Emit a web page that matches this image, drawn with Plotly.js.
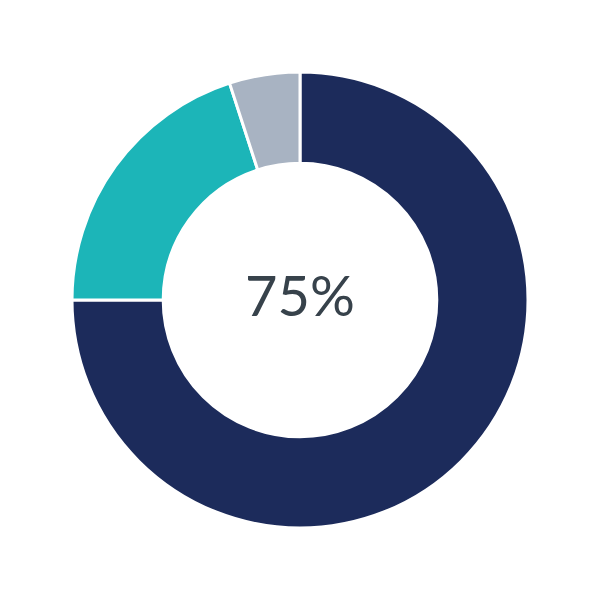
<!DOCTYPE html>
<html><head><meta charset="utf-8">
<script src="https://cdn.plot.ly/plotly-3.0.1.min.js"></script>
<style>html,body{margin:0;padding:0;background:#fff}#c{width:600px;height:600px}</style>
</head><body><div id="c"></div>
<script>
const labels = ["Navy", "Teal", "Gray"];
const values = [75, 20, 5];
const colors = ["#1c2b5b", "#1cb5b8", "#a8b3c2"];
const centerText = "75%";

Plotly.newPlot("c", [{
  type: "pie",
  labels: labels,
  values: values,
  hole: 0.6,
  sort: false,
  direction: "clockwise",
  rotation: 0,
  textinfo: "none",
  hoverinfo: "none",
  marker: {colors: colors, line: {color: "#ffffff", width: 3}}
}], {
  width: 600, height: 600,
  margin: {l: 72, r: 72, t: 72, b: 72},
  showlegend: false,
  paper_bgcolor: "#ffffff",
  annotations: [{
    text: centerText, x: 0.5, y: 0.5, xref: "paper", yref: "paper",
    yshift: 6,
    showarrow: false, font: {family: "Lato", size: 56, color: "#37424b"}
  }]
}, {displayModeBar: false, staticPlot: true});
</script></body></html>
